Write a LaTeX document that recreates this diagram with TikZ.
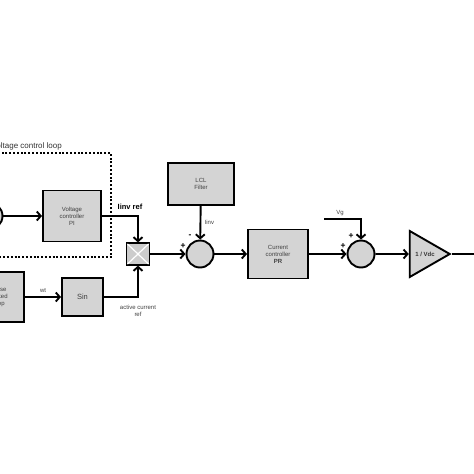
\documentclass[tikz,border=0pt]{standalone}
\usepackage{fontspec}
\setmainfont{Liberation Sans}
\usetikzlibrary{arrows.meta,shapes.geometric}
\begin{document}
\begin{tikzpicture}[x=1pt,y=-1pt,
    block/.style={draw,line width=1.9pt,fill=black!17,align=center,font=\fontsize{6}{7}\selectfont,text=black!75,inner sep=1pt},
    sumnode/.style={draw,circle,line width=1.9pt,fill=black!17,minimum size=27pt,inner sep=0pt},
    wire/.style={line width=1.9pt},
    flow/.style={wire,-{Straight Barb[length=4pt,width=9pt]}},
    lbl/.style={font=\fontsize{6}{7}\selectfont,text=black!75,align=center},
    sign/.style={font=\fontsize{8.5}{8.5}\selectfont\bfseries,inner sep=0pt}]
  \pgfmathsetmacro{\rowA}{216}
  \pgfmathsetmacro{\rowB}{254}
  \pgfmathsetmacro{\rowC}{297}
  \useasboundingbox (0,0) rectangle (474,474);
  \clip (0,0) rectangle (474,474);
  \draw[line width=2pt,dash pattern=on 2pt off 1.8pt] (-60,153) rectangle (111,257);
  \node[anchor=east,font=\fontsize{8}{9}\selectfont,text=black!80,inner sep=0pt] (looptitle) at (62,146) {Voltage control loop};
  \node[sumnode] (vsum) at (-11,\rowA) {};
  \node[block,minimum width=58pt,minimum height=51pt] (vpi) at (72,\rowA) {Voltage\\controller\\PI};
  \node[block,minimum width=60pt,minimum height=50pt] (pll) at (-6,\rowC) {};
  \node[lbl] (plltext) at (-2,\rowC) {Phase\\Locked\\Loop};
  \node[block,minimum width=41pt,minimum height=38pt,font=\fontsize{7.5}{8}\selectfont] (sinb) at (82.5,\rowC) {Sin};
  \node[draw,line width=1.2pt,fill=black!20,minimum width=23pt,minimum height=22pt,inner sep=0pt] (mux) at (138,\rowB) {};
  \draw[white,line width=1.2pt] ([shift={(1.5,1.5)}]mux.north west) -- ([shift={(-1.5,-1.5)}]mux.south east)
    ([shift={(-1.5,1.5)}]mux.north east) -- ([shift={(1.5,-1.5)}]mux.south west);
  \node[block,minimum width=66pt,minimum height=42pt] (lcl) at (201,184) {LCL\\Filter};
  \node[sumnode] (isum) at (200,\rowB) {};
  \node[block,minimum width=60pt,minimum height=49pt] (pr) at (278,\rowB) {Current\\controller\\\textbf{PR}};
  \node[sumnode] (vsum2) at (361,\rowB) {};
  \node[draw,line width=1.9pt,fill=black!17,isosceles triangle,isosceles triangle stretches,
        minimum width=46pt,minimum height=40pt,inner sep=0pt,
        font=\fontsize{6}{7}\selectfont\bfseries,text=black!80] (gain) at (425,\rowB) {1 / Vdc};
  \coordinate (vg) at (324,219);
  \coordinate (out) at (480,\rowB);
  \draw[flow] (vsum) -- (vpi);
  \draw[flow] (vpi.east) -| (mux.north);
  \node[font=\fontsize{7.5}{8}\selectfont\bfseries] (refname) at (130,207) {Iinv ref};
  \draw[flow] (pll.east) -- (sinb.west) node[midway,above,lbl] (wtlabel) {wt};
  \draw[flow] (sinb.east) -| (mux.south);
  \node[lbl] (activeref) at (138,311) {active current\\ref};
  \draw[flow] (mux) -- (isum);
  \draw[flow] (lcl) -- (isum) node[midway,right,lbl] (iinvlabel) {Iinv};
  \node[sign] at (183,246) {+};
  \node[sign] at (190,236) {-};
  \draw[flow] (isum) -- (pr);
  \draw[flow] (pr) -- (vsum2);
  \draw[flow] (vg) -| (vsum2.north);
  \node[lbl] (vglabel) at (340,213) {Vg};
  \node[sign] at (343,246) {+};
  \node[sign] at (351,236) {+};
  \draw[flow] (vsum2) -- (gain.west);
  \draw[wire] (gain.apex) -- (out);
\end{tikzpicture}
\end{document}
